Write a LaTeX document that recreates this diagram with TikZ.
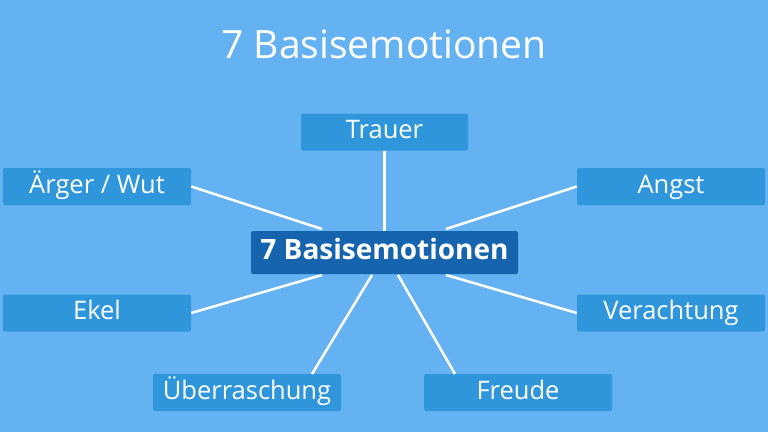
\documentclass[tikz,border=0pt]{standalone}
\usepackage{fontspec}
\setmainfont{Open Sans}
\definecolor{bg}{HTML}{64B2F2}
\definecolor{boxc}{HTML}{2F96DC}
\definecolor{mainc}{HTML}{1764AE}
\begin{document}
\begin{tikzpicture}[x=1pt,y=-1pt,
  emo/.style={fill=boxc,rounded corners=2pt,minimum width=188pt,minimum height=37pt,text=white,font=\fontsize{25.5}{30}\selectfont,inner sep=0pt,text height=18pt,text depth=5pt},
  link/.style={draw=white,line width=2.5pt}]
\fill[bg] (0,0) rectangle (768,432);
\node[text=white,font=\fontsize{39}{46}\selectfont] (title) at (384,44) {7 Basisemotionen};
\node[emo,minimum width=167pt] (trauer) at (384.5,132) {Trauer};
\node[emo] (aerger) at (97,186.5) {Ärger / Wut};
\node[emo] (angst) at (671,186.5) {Angst};
\node[emo] (ekel) at (97,313) {Ekel};
\node[emo] (verachtung) at (671,313) {Verachtung};
\node[emo] (ueber) at (247,392.5) {Überraschung};
\node[emo] (freude) at (518,392.5) {Freude};
\coordinate (c1) at (322,229);
\coordinate (c2) at (446,229);
\coordinate (c3) at (322,275);
\coordinate (c4) at (446,275);
\coordinate (c5) at (372,275);
\coordinate (c6) at (398,275);
\coordinate (c7) at (384.5,231);
\coordinate (u1) at (312,374);
\coordinate (f1) at (455,374);
\draw[link] (trauer.south) -- (c7);
\draw[link] (aerger.east) -- (c1);
\draw[link] (angst.west) -- (c2);
\draw[link] (ekel.east) -- (c3);
\draw[link] (verachtung.west) -- (c4);
\draw[link] (u1) -- (c5);
\draw[link] (f1) -- (c6);
\node[fill=mainc,rounded corners=2pt,minimum width=267pt,minimum height=43pt,text=white,font=\bfseries\fontsize{28}{33}\selectfont,inner sep=0pt,text height=20pt,text depth=6pt] (center) at (384.5,252.5) {7 Basisemotionen};
\end{tikzpicture}
\end{document}
